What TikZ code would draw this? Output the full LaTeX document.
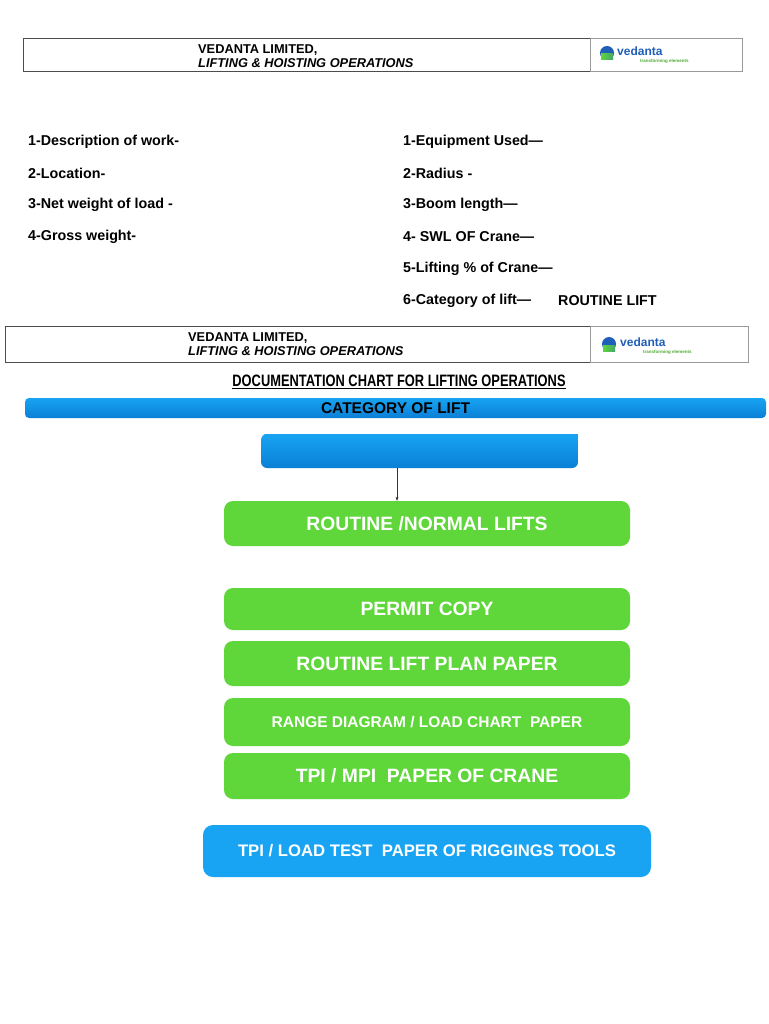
\documentclass[tikz,border=0pt]{standalone}
\usepackage{fontspec}
\setmainfont{Liberation Sans}
\usetikzlibrary{arrows.meta,shadings}
\definecolor{grn}{HTML}{5FD63A}
\definecolor{blu}{HTML}{18A4F2}
\definecolor{bluD}{HTML}{0A7FD6}
\definecolor{vblue}{HTML}{1F5FB8}
\begin{document}
\begin{tikzpicture}[x=1pt,y=-1pt,
  fld/.style={anchor=west,font=\fontsize{14.3}{16}\selectfont\bfseries,inner sep=0},
  hdr/.style={anchor=north west,font=\fontsize{12.8}{14.5}\selectfont\bfseries,align=left,inner sep=0},
  gbox/.style={draw=none,fill=grn,rounded corners=9pt,text=white,font=\fontsize{19.3}{21}\selectfont\bfseries},
]
\useasboundingbox[fill=white] (0,0) rectangle (768,1024);
% header 1
\node[draw=black!70,line width=0.6pt,minimum width=567pt,minimum height=33pt,anchor=north west,inner sep=0] (h1) at (23,38) {};
\node[draw=black!40,minimum width=152pt,minimum height=33pt,anchor=north west,inner sep=0] (l1) at (590,38) {};
\node[hdr] (h1t) at (198,44) {VEDANTA LIMITED,\\\itshape LIFTING \& HOISTING OPERATIONS};
\fill[vblue] (607,53) circle (7pt);
\shade[left color=grn,right color=grn!60!vblue] (601,54) rectangle (613,60);
\node[anchor=west,inner sep=0,text=vblue,font=\fontsize{12}{12}\selectfont\bfseries] (lg1) at (617,51) {vedanta};
\node[anchor=west,inner sep=0,text=grn!80!black,font=\fontsize{4.5}{5}\selectfont\bfseries] (lt1) at (640,61) {transforming elements};
% fields
\node[fld] (a1) at (28,142) {1-Description of work-};
\node[fld] (a2) at (28,173) {2-Location-};
\node[fld] (a3) at (28,205) {3-Net weight of load -};
\node[fld] (a4) at (28,237) {4-Gross weight-};
\node[fld] (b1) at (403,142) {1-Equipment Used—};
\node[fld] (b2) at (403,173) {2-Radius -};
\node[fld] (b3) at (403,205) {3-Boom length—};
\node[fld] (b4) at (403,237) {4- SWL OF Crane—};
\node[fld] (b5) at (403,269) {5-Lifting \% of Crane—};
\node[fld] (b6) at (403,301) {6-Category of lift—};
\node[fld] (b7) at (558,301) {ROUTINE LIFT};
% header 2
\node[draw=black!70,line width=0.6pt,minimum width=585pt,minimum height=36pt,anchor=north west,inner sep=0] (h2) at (5,326) {};
\node[draw=black!40,minimum width=158pt,minimum height=36pt,anchor=north west,inner sep=0] (l2) at (590,326) {};
\node[hdr] (h2t) at (188,332) {VEDANTA LIMITED,\\\itshape LIFTING \& HOISTING OPERATIONS};
\fill[vblue] (609,344) circle (7pt);
\shade[left color=grn,right color=grn!60!vblue] (603,345) rectangle (615,351);
\node[anchor=west,inner sep=0,text=vblue,font=\fontsize{12}{12}\selectfont\bfseries] (lg2) at (620,342) {vedanta};
\node[anchor=west,inner sep=0,text=grn!80!black,font=\fontsize{4.5}{5}\selectfont\bfseries] (lt2) at (643,352) {transforming elements};
% title
\node[inner sep=0] (title) at (399,382) {\scalebox{0.78}[1]{\fontsize{16.5}{17}\selectfont\bfseries\underline{DOCUMENTATION CHART FOR LIFTING OPERATIONS}}};
% category bar
\node[top color=blu,bottom color=bluD,rounded corners=4pt,minimum width=741pt,minimum height=20pt,inner sep=0,font=\fontsize{15.5}{16}\selectfont\bfseries] (cat) at (395.5,408) {CATEGORY OF LIFT};
% blue box
\shade[top color=blu,bottom color=bluD,rounded corners=6pt] (578,434) -- (268,434) -- (261,434) -- (261,468) -- (578,468) [sharp corners] -- cycle;
\node[minimum width=317pt,minimum height=34pt,inner sep=0] (bb) at (419.5,451) {};
\coordinate (bbs) at (397,468);
% green boxes
\node[gbox,minimum width=406pt,minimum height=45pt] (g1) at (427,523.5) {ROUTINE /NORMAL LIFTS};
\draw[-{Stealth[length=4pt]},black!80] (bbs) -- (bbs |- g1.north);
\node[gbox,minimum width=406pt,minimum height=42pt] (g2) at (427,609) {PERMIT COPY};
\node[gbox,minimum width=406pt,minimum height=45pt] (g3) at (427,663.5) {ROUTINE LIFT PLAN PAPER};
\node[gbox,minimum width=406pt,minimum height=48pt,font=\fontsize{15.5}{17}\selectfont\bfseries] (g4) at (427,722) {RANGE DIAGRAM / LOAD CHART\ \ PAPER};
\node[gbox,minimum width=406pt,minimum height=46pt] (g5) at (427,776) {TPI / MPI\ \ PAPER OF CRANE};
\node[fill=blu,rounded corners=10pt,text=white,minimum width=448pt,minimum height=52pt,font=\fontsize{16.7}{18}\selectfont\bfseries] (g6) at (427,851) {TPI / LOAD TEST\ \ PAPER OF RIGGINGS TOOLS};
\end{tikzpicture}
\end{document}
